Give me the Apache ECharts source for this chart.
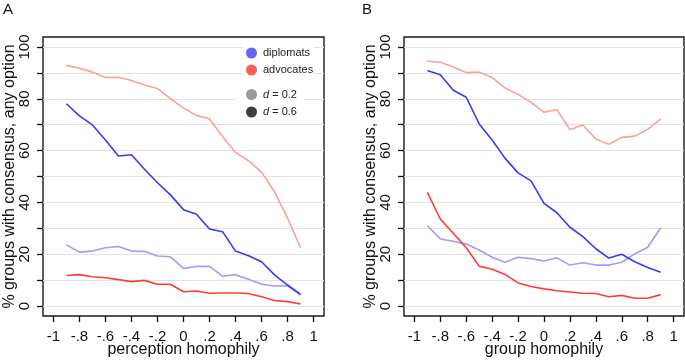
<!DOCTYPE html>
<html>
<head>
<meta charset="utf-8">
<script src="https://cdn.jsdelivr.net/npm/echarts@6/dist/echarts.min.js"></script>
<style>
html,body{margin:0;padding:0;background:#fff;}
#c{width:685px;height:360px;}
</style>
</head>
<body>
<div id="c"></div>
<script>
// homophily levels (x values)
const homophily = [-0.9,-0.8,-0.7,-0.6,-0.5,-0.4,-0.3,-0.2,-0.1,0,0.1,0.2,0.3,0.4,0.5,0.6,0.7,0.8,0.9];

// Panel A: perception homophily
const A_diplomats_d02 = [23.6,20.8,21.2,22.5,23.0,21.2,21.1,19.3,19.0,14.5,15.3,15.3,11.5,12.1,10.3,8.4,7.7,7.8,4.2];
const A_diplomats_d06 = [78.1,73.4,69.9,64.1,57.9,58.4,52.8,47.6,42.9,37.2,35.4,29.7,28.7,21.2,19.4,17.1,12.0,8.1,4.5];
const A_advocates_d02 = [92.9,91.8,90.3,88.2,88.3,87.1,85.3,84.0,80.1,76.4,73.6,72.3,65.4,59.3,56.1,51.7,44.1,33.9,22.5];
const A_advocates_d06 = [11.8,12.1,11.3,10.9,10.2,9.4,9.9,8.4,8.4,5.5,5.8,4.9,5.0,5.0,4.8,3.6,2.1,1.7,0.8];

// Panel B: group homophily
const B_diplomats_d02 = [31.0,25.9,25.0,23.9,21.6,18.8,16.9,18.8,18.3,17.4,18.6,15.8,16.7,15.8,15.8,16.9,20.1,22.7,30.2];
const B_diplomats_d06 = [90.9,89.3,83.3,80.6,70.3,64.1,57.0,51.4,48.3,39.6,36.0,30.4,26.8,22.1,18.5,20.0,17.1,14.9,13.0];
const B_advocates_d02 = [94.5,94.1,92.3,90.1,90.3,88.2,84.2,81.7,78.6,74.8,75.8,68.1,69.9,64.5,62.4,65.1,65.6,68.2,72.2];
const B_advocates_d06 = [43.9,33.6,28.1,22.5,15.4,14.2,12.2,8.9,7.5,6.6,5.9,5.4,4.9,4.8,3.6,4.1,3.0,3.0,4.4];

// ticks
const xTickValues = [-1,-0.8,-0.6,-0.4,-0.2,0,0.2,0.4,0.6,0.8,1];
const xTickLabels = ['-1','-.8','-.6','-.4','-.2','0','.2','.4','.6','.8','1'];
const yTickValues = [0,10,20,30,40,50,60,70,80,90,100];
const yLabelValues = [0,20,40,60,80,100];

const xTitles = ['perception homophily','group homophily'];
const yTitle = '% groups with consensus, any option';
const panelLetters = ['A','B'];
const legendNames = ['diplomats','advocates'];

const FONT = '"Liberation Sans", Arial, Helvetica, sans-serif';
const C = {
  dipl06:'#3a3af6', dipl02:'#9d9dfc', adv06:'#fb3c3c', adv02:'#fd9d9d',
  lgDipl:'#6464fc', lgAdv:'#fb5c5c', lgD02:'#9a9a9a', lgD06:'#3e3e3e'
};

function pair(vals){ return homophily.map((x,i)=>[x, vals[i]]); }

const grids = [
  {left:43, top:37, width:281, height:279},
  {left:404, top:37, width:280, height:279}
];

function xAxis(i){
  return {
    type:'value', gridIndex:i, min:-1.08, max:1.08,
    name:xTitles[i], nameLocation:'middle', nameGap:26, nameMoveOverlap:false,
    nameTextStyle:{fontFamily:FONT, fontSize:16, color:'#111'},
    axisLine:{show:false, onZero:false},
    axisTick:{show:true, length:6, customValues:xTickValues, lineStyle:{color:'#111', width:1.3}},
    axisLabel:{show:true, margin:13, customValues:xTickValues, fontFamily:FONT, fontSize:15, color:'#111',
      formatter:function(v){ for(let k=0;k<xTickValues.length;k++){ if(Math.abs(xTickValues[k]-v)<1e-6) return xTickLabels[k]; } return ''; }},
    splitLine:{show:false}
  };
}
function yAxis(i){
  return {
    type:'value', gridIndex:i, min:-3.86, max:103.86,
    name:yTitle, nameLocation:'middle', nameGap:25, nameRotate:90, nameMoveOverlap:false,
    nameTextStyle:{fontFamily:FONT, fontSize:16, color:'#111'},
    axisLine:{show:false, onZero:false},
    axisTick:{show:true, length:6, customValues:yTickValues, lineStyle:{color:'#111', width:1.3}},
    axisLabel:{show:true, margin:11, rotate:90, customValues:yLabelValues, fontFamily:FONT, fontSize:15, color:'#111'},
    splitLine:{show:true, lineStyle:{color:'#e2e2e2', width:1}}
  };
}
function line(i, data, color, name){
  return {type:'line', name:name, xAxisIndex:i, yAxisIndex:i, data:pair(data), showSymbol:false, symbol:'none',
    lineStyle:{color:color, width:1.6}, itemStyle:{color:color}, animation:false, silent:true};
}

const option = {
  animation:false,
  backgroundColor:'#fff',
  grid: grids.map(g=>Object.assign({show:true, borderColor:'#1a1a1a', borderWidth:1.4, backgroundColor:'transparent', containLabel:false, outerBoundsMode:'none'}, g)),
  xAxis:[xAxis(0), xAxis(1)],
  yAxis:[yAxis(0), yAxis(1)],
  series:[
    line(0, A_diplomats_d02, C.dipl02, 'diplomats d=0.2'),
    line(0, A_advocates_d02, C.adv02, 'advocates d=0.2'),
    line(0, A_diplomats_d06, C.dipl06, 'diplomats d=0.6'),
    line(0, A_advocates_d06, C.adv06, 'advocates d=0.6'),
    line(1, B_diplomats_d02, C.dipl02, 'diplomats d=0.2'),
    line(1, B_advocates_d02, C.adv02, 'advocates d=0.2'),
    line(1, B_diplomats_d06, C.dipl06, 'diplomats d=0.6'),
    line(1, B_advocates_d06, C.adv06, 'advocates d=0.6')
  ],
  graphic:[
    {type:'text', x:3, y:2, z:100, style:{text:panelLetters[0], font:'15px '+FONT, fill:'#111'}},
    {type:'text', x:362, y:2, z:100, style:{text:panelLetters[1], font:'15px '+FONT, fill:'#111'}},
    {type:'rect', x:0, y:0, z:100, shape:{x:243, y:45, width:71, height:34}, style:{fill:'#fff'}},
    {type:'rect', x:0, y:0, z:100, shape:{x:236, y:84, width:68, height:36}, style:{fill:'#fff'}},
    {type:'circle', x:0, y:0, z:101, shape:{cx:251.5, cy:53, r:5.5}, style:{fill:C.lgDipl}},
    {type:'circle', x:0, y:0, z:101, shape:{cx:251.5, cy:70, r:5.5}, style:{fill:C.lgAdv}},
    {type:'circle', x:0, y:0, z:101, shape:{cx:251.5, cy:94.5, r:5.5}, style:{fill:C.lgD02}},
    {type:'circle', x:0, y:0, z:101, shape:{cx:251.5, cy:112, r:5.5}, style:{fill:C.lgD06}},
    {type:'text', x:263, y:53, z:101, style:{text:legendNames[0], font:'11px '+FONT, fill:'#222', verticalAlign:'middle'}},
    {type:'text', x:263, y:70, z:101, style:{text:legendNames[1], font:'11px '+FONT, fill:'#222', verticalAlign:'middle'}},
    {type:'text', x:263, y:94.5, z:101, style:{text:'{i|d} = 0.2', font:'11px '+FONT, fill:'#222', verticalAlign:'middle',
      rich:{i:{fontStyle:'italic', fontFamily:FONT, fontSize:11, fill:'#222'}}}},
    {type:'text', x:263, y:112, z:101, style:{text:'{i|d} = 0.6', font:'11px '+FONT, fill:'#222', verticalAlign:'middle',
      rich:{i:{fontStyle:'italic', fontFamily:FONT, fontSize:11, fill:'#222'}}}}
  ]
};

const chart = echarts.init(document.getElementById('c'), null, {renderer:'canvas'});
chart.setOption(option);
</script>
</body>
</html>
